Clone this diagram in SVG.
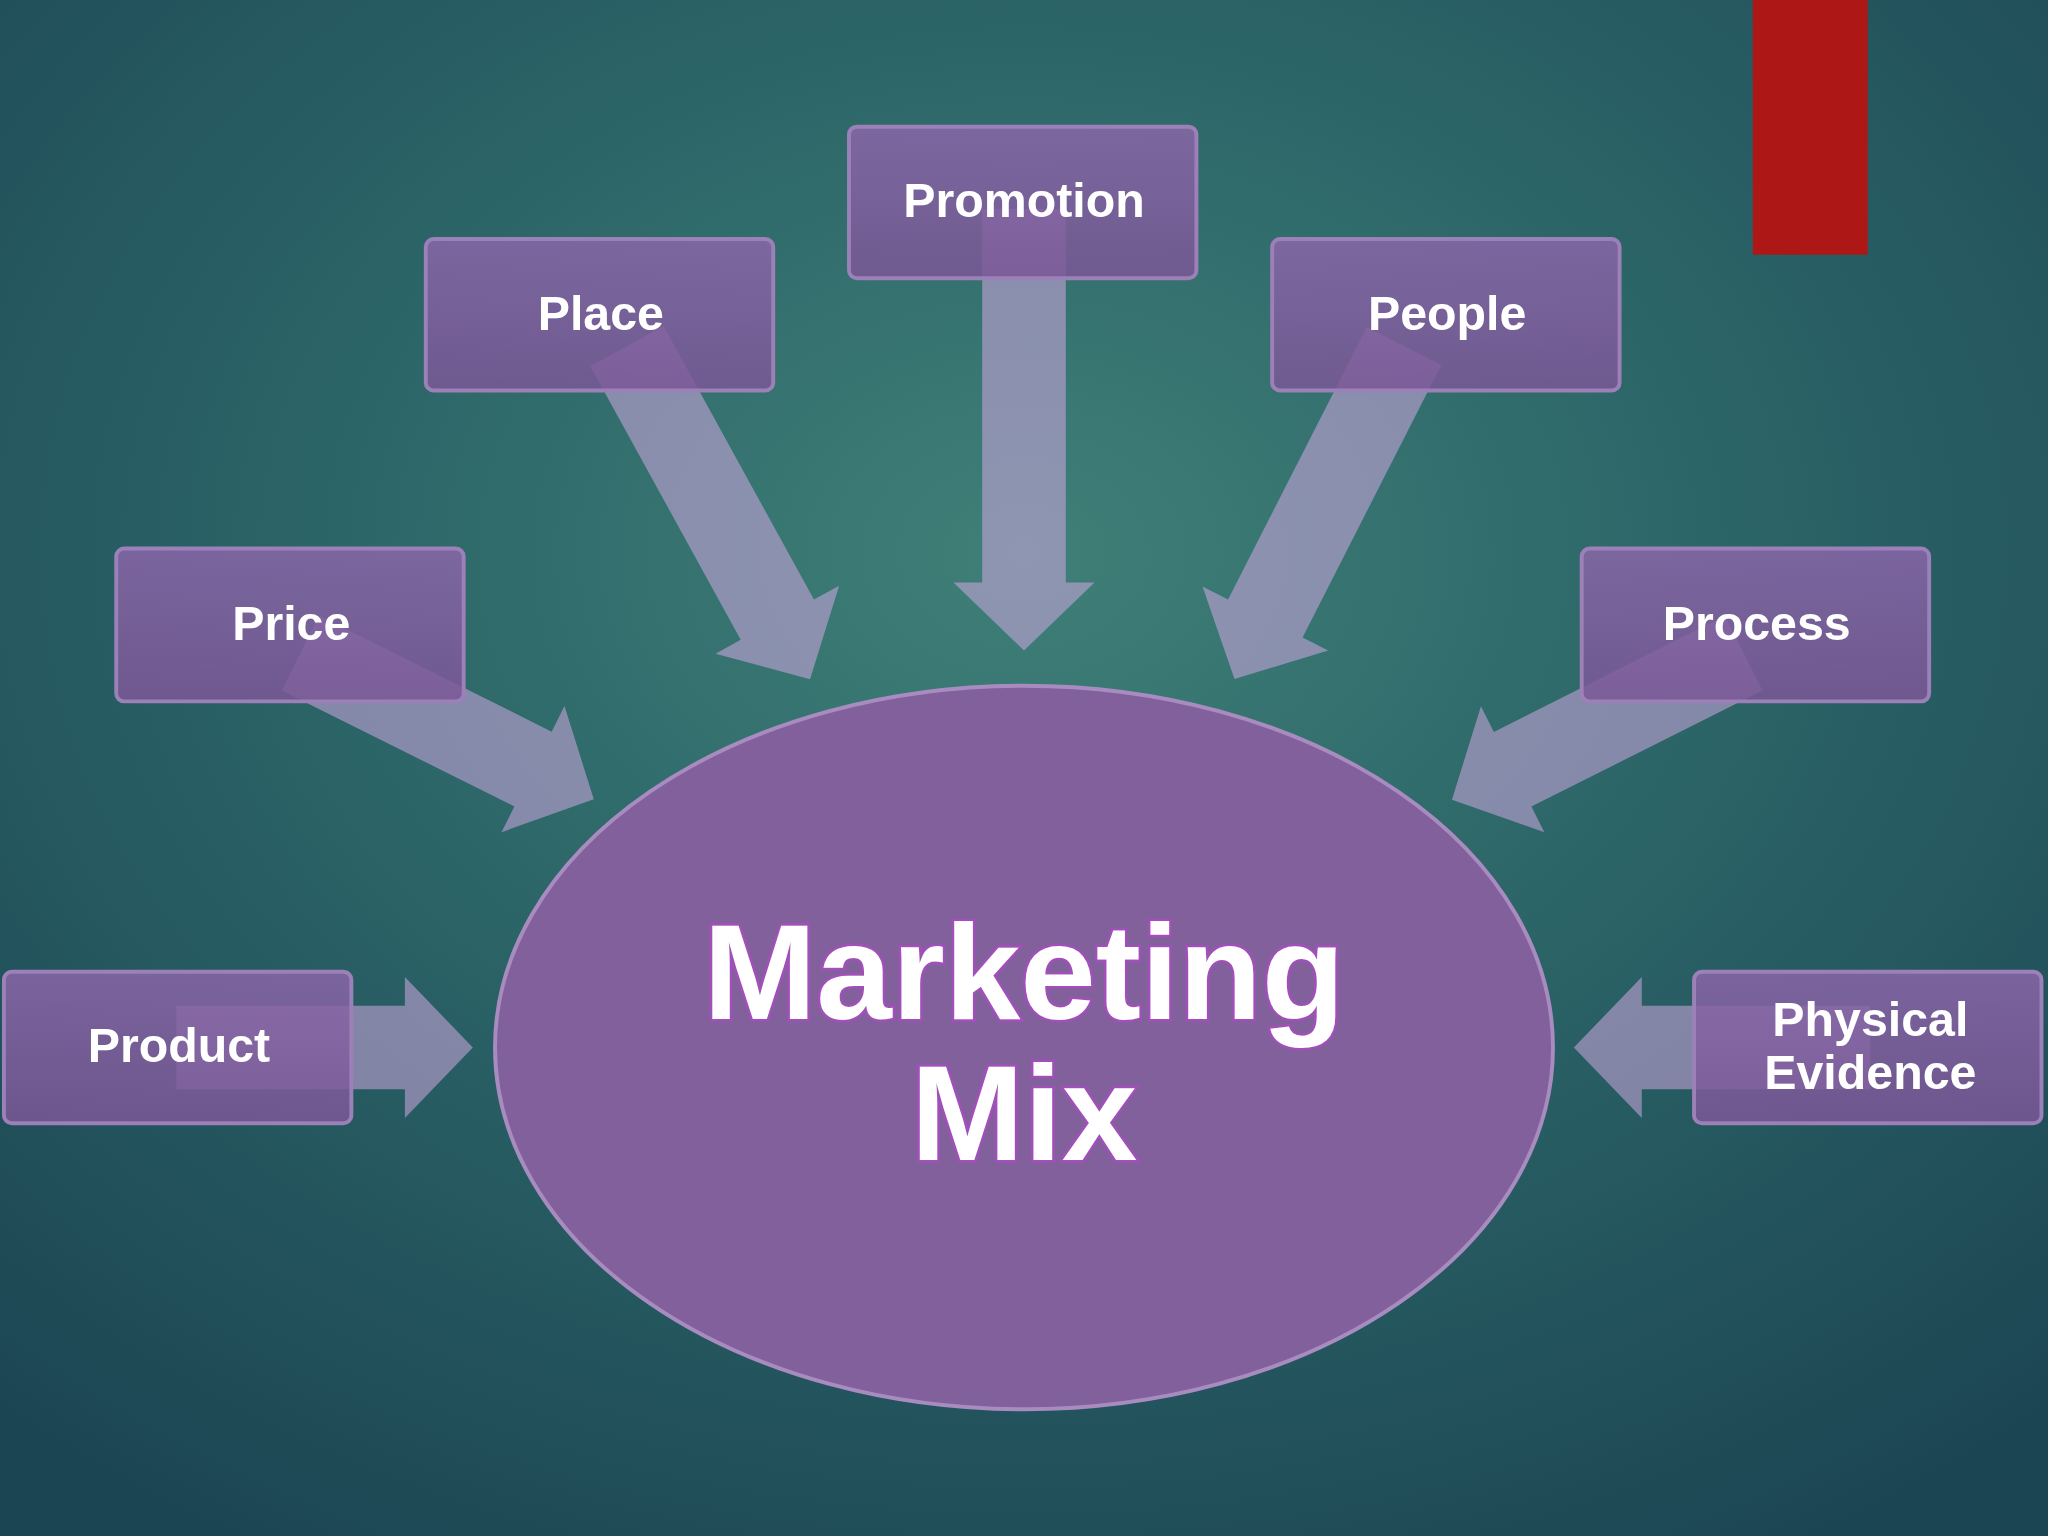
<svg xmlns="http://www.w3.org/2000/svg" width="2048" height="1536" viewBox="0 0 2048 1536">
<defs>
<radialGradient id="bg" cx="0.5" cy="0.36" r="0.75">
<stop offset="0" stop-color="#3f8078"/>
<stop offset="0.5" stop-color="#2a6266"/>
<stop offset="1" stop-color="#1c4553"/>
</radialGradient>
<linearGradient id="box" x1="0" y1="0" x2="0" y2="1">
<stop offset="0" stop-color="#8a66a8"/>
<stop offset="1" stop-color="#7a5796"/>
</linearGradient>
</defs>
<style>
.box{fill:url(#box);fill-opacity:0.85;stroke:#9c80b8;stroke-width:3}
.lbl{font-family:"Liberation Sans",Arial,sans-serif;font-weight:bold;font-size:37px;fill:#ffffff;text-anchor:middle}
.arr{fill:#d0a8e0;fill-opacity:0.55}
.big{font-family:"Liberation Sans",Arial,sans-serif;font-weight:bold;font-size:104px;fill:#ffffff;text-anchor:middle;stroke:#a050b8;stroke-width:4;paint-order:stroke}
</style>
<rect width="2048" height="1536" fill="url(#bg)"/>
<g transform="scale(1.30612)">
<rect x="1342" y="0" width="88" height="195" fill="#ad1816"/>
<g id="connectors">
<path class="arr" transform="translate(784,160) rotate(90)" d="M0,-32 H286 V-54 L338,0 L286,54 V32 H0 Z"/>
<path class="arr" transform="translate(480,265) rotate(61.2)" d="M0,-32 H239 V-54 L291,0 L239,54 V32 H0 Z"/>
<path class="arr" transform="translate(1075,265) rotate(117)" d="M0,-32 H234 V-54 L286,0 L234,54 V32 H0 Z"/>
<path class="arr" transform="translate(230,500) rotate(26.5)" d="M0,-32 H199 V-54 L251,0 L199,54 V32 H0 Z"/>
<path class="arr" transform="translate(1335,500) rotate(153.3)" d="M0,-32 H198 V-54 L250,0 L198,54 V32 H0 Z"/>
<path class="arr" transform="translate(135,802) rotate(0)" d="M0,-32 H175 V-54 L227,0 L175,54 V32 H0 Z"/>
<path class="arr" transform="translate(1432,802) rotate(180)" d="M0,-32 H175 V-54 L227,0 L175,54 V32 H0 Z"/>
</g>
<g id="mix">
<ellipse cx="784" cy="802" rx="405" ry="277" fill="#82609c" stroke="#a88cc0" stroke-width="3"/>
<text class="big" x="784" y="780">Marketing</text>
<text class="big" x="784" y="888">Mix</text>
</g>
<g id="promotion"><rect class="box" x="650" y="97" width="266" height="116" rx="6"/><text class="lbl" x="784" y="166">Promotion</text></g>
<g id="place"><rect class="box" x="326" y="183" width="266" height="116" rx="6"/><text class="lbl" x="460" y="253">Place</text></g>
<g id="people"><rect class="box" x="974" y="183" width="266" height="116" rx="6"/><text class="lbl" x="1108" y="253">People</text></g>
<g id="price"><rect class="box" x="89" y="420" width="266" height="117" rx="6"/><text class="lbl" x="223" y="490">Price</text></g>
<g id="process"><rect class="box" x="1211" y="420" width="266" height="117" rx="6"/><text class="lbl" x="1345" y="490">Process</text></g>
<g id="product"><rect class="box" x="3" y="744" width="266" height="116" rx="6"/><text class="lbl" x="137" y="813">Product</text></g>
<g id="physical"><rect class="box" x="1297" y="744" width="266" height="116" rx="6"/><text class="lbl" x="1432" y="793">Physical</text><text class="lbl" x="1432" y="834">Evidence</text></g>
</g>
</svg>
